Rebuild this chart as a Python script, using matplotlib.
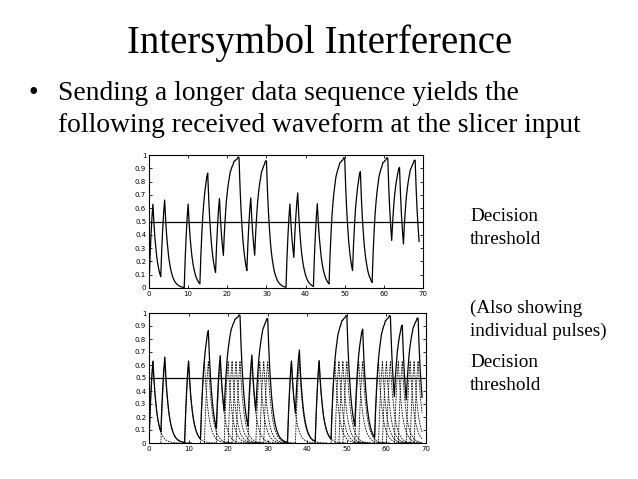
import numpy as np
import matplotlib
matplotlib.use("Agg")
import matplotlib.pyplot as plt

# ---- data ----
# bit periods (start times) that carry a "1"
one_bits = [0, 3, 9, 13, 14, 17, 19, 20, 21, 22, 25, 27, 28, 29, 35, 37, 42,
            46, 47, 48, 49, 52, 53, 57, 58, 59, 60, 62, 63, 65, 66, 67]
n_bits = 69
# single received pulse, sampled every quarter bit (rise then slow decay)
pulse_step = 0.25
pulse = [0.0, 0.22, 0.39, 0.53, 0.63, 0.49, 0.38, 0.30, 0.23, 0.18, 0.14,
         0.11, 0.085, 0.066, 0.052, 0.040, 0.031, 0.024, 0.019, 0.015,
         0.011, 0.009, 0.007, 0.005, 0.004, 0.003, 0.002, 0.002, 0.001,
         0.001, 0.001, 0.0, 0.0]
threshold = 0.5
x_ticks = [0, 10, 20, 30, 40, 50, 60, 70]
y_ticks = [0, 0.1, 0.2, 0.3, 0.4, 0.5, 0.6, 0.7, 0.8, 0.9, 1]
y_ticklabels = ["0", "0.1", "0.2", "0.3", "0.4", "0.5", "0.6", "0.7", "0.8", "0.9", "1"]

title = "Intersymbol Interference"
bullet_lines = ["Sending a longer data sequence yields the",
                "following received waveform at the slicer input"]

# ---- build waveform from bits and pulse ----
spb = int(round(1 / pulse_step))
n_samp = n_bits * spb + 1
t = np.arange(n_samp) * pulse_step
p = np.array(pulse)
impulses = np.zeros(n_samp)
for b in one_bits:
    impulses[b * spb] = 1.0
total = np.convolve(impulses, p)[:n_samp]

W, H = 638, 479
fig = plt.figure(figsize=(W / 100, H / 100), dpi=100)
fig.patch.set_facecolor("white")

serif = ["Liberation Serif", "DejaVu Serif"]
fig.text(320 / W, 1 - 43 / H, title, ha="center", va="center",
         fontsize=28, family=serif)
fig.text(28 / W, 1 - 94 / H, "\u2022", ha="left", va="center", fontsize=20, family=serif)
fig.text(58 / W, 1 - 94 / H, bullet_lines[0], ha="left", va="center", fontsize=19.8, family=serif)
fig.text(58 / W, 1 - 126 / H, bullet_lines[1], ha="left", va="center", fontsize=19.8, family=serif)

fig.text(470 / W, 1 - 228 / H, "Decision\nthreshold", ha="left", va="center",
         fontsize=13.8, family=serif, linespacing=1.45)
fig.text(470 / W, 1 - 320 / H, "(Also showing\nindividual pulses)", ha="left", va="center",
         fontsize=13.8, family=serif, linespacing=1.45)
fig.text(470 / W, 1 - 374 / H, "Decision\nthreshold", ha="left", va="center",
         fontsize=13.8, family=serif, linespacing=1.45)


def make_ax(x0, y0, x1, y1):
    ax = fig.add_axes([x0 / W, 1 - y1 / H, (x1 - x0) / W, (y1 - y0) / H])
    ax.set_xlim(0, 70)
    ax.set_ylim(0, 1)
    ax.set_xticks(x_ticks)
    ax.set_yticks(y_ticks)
    ax.set_yticklabels(y_ticklabels)
    ax.tick_params(direction="in", length=2.5, width=0.6, labelsize=5,
                   top=True, right=True, pad=2)
    for s in ax.spines.values():
        s.set_linewidth(0.8)
    return ax


ax1 = make_ax(149, 155, 423, 288)
ax1.plot(t, total, color="black", lw=0.9)
ax1.axhline(threshold, color="black", lw=0.9)

ax2 = make_ax(149, 313, 426, 443)
for b in one_bits:
    seg_t = b + np.arange(len(p)) * pulse_step
    m = seg_t <= t[-1]
    ax2.plot(seg_t[m], p[m], color="black", lw=0.6, ls=(0, (2, 1.2)))
ax2.plot(t, total, color="black", lw=0.9)
ax2.axhline(threshold, color="black", lw=0.9)

fig.savefig("out.png", dpi=100)
